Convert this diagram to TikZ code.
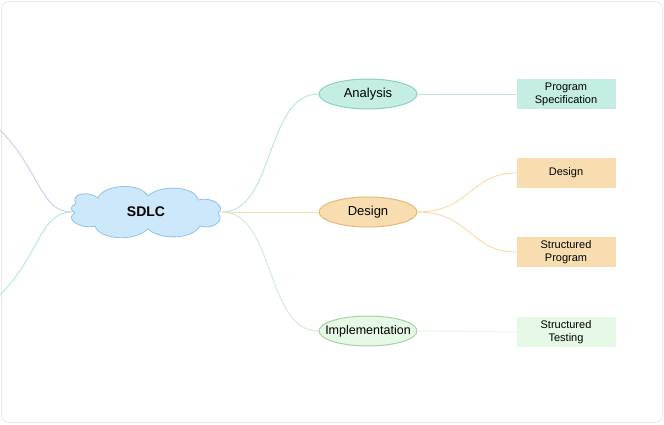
\documentclass[tikz,border=0pt]{standalone}
\usepackage{fontspec}
\setmainfont{Liberation Sans}
\usetikzlibrary{shapes.geometric}
\definecolor{tealf}{HTML}{C4EEE4}\definecolor{teald}{HTML}{8ECFBE}
\definecolor{orf}{HTML}{F8DDB0}\definecolor{ord}{HTML}{E3BB74}
\definecolor{grf}{HTML}{E6F8E6}\definecolor{grd}{HTML}{A8D0A8}
\definecolor{cloudf}{HTML}{CDE8FB}\definecolor{cloudd}{HTML}{8EC2E8}
\definecolor{purp}{HTML}{DCC8EC}
\begin{document}
\begin{tikzpicture}[x=1pt,y=-1pt,
  ell/.style={ellipse,draw,line width=1pt,minimum width=98pt,minimum height=30pt,inner sep=0pt},
  ellt/.style={font=\fontsize{13}{15}\selectfont},
  leaf/.style={rectangle,minimum width=99pt,minimum height=30pt,inner sep=0pt,align=center,font=\fontsize{11}{13}\selectfont},
  lnk/.style={line width=1pt}]
\useasboundingbox (0,0) rectangle (664,424);
\draw[rounded corners=8pt,color=black!8,line width=1pt] (1.5,1.5) rectangle (662.5,422.5);
\draw[cloudd,fill=cloudf,line width=0.8pt]
 (76,204) .. controls (70,194) and (88,190) .. (98,198)
 .. controls (104,184) and (140,182) .. (148,196)
 .. controls (160,184) and (196,186) .. (198,200)
 .. controls (214,196) and (226,208) .. (218,213)
 .. controls (226,222) and (210,230) .. (200,226)
 .. controls (192,240) and (160,240) .. (148,229)
 .. controls (134,242) and (100,240) .. (95,226)
 .. controls (80,230) and (64,218) .. (75,213)
 .. controls (70,210) and (70,206) .. (76,204) -- cycle;
\node[inner sep=0pt,minimum width=148pt,minimum height=50pt,font=\bfseries\fontsize{14}{16}\selectfont] (c) at (146,212) {SDLC};
\node[ell,draw=teald,fill=tealf,label={[ellt]center:Analysis}] (a) at (368,94) {};
\node[ell,draw=ord,fill=orf,label={[ellt]center:Design}] (d) at (368,212) {};
\node[ell,draw=grd,fill=grf,label={[ellt,font=\fontsize{12.5}{15}\selectfont]center:Implementation}] (i) at (368,331) {};
\node[leaf,fill=tealf] (ps) at (566,94) {Program\\Specification};
\node[leaf,fill=orf] (dd) at (566,173) {Design};
\node[leaf,fill=orf] (sp) at (566,252) {Structured\\Program};
\node[leaf,fill=grf] (st) at (566,332) {Structured\\Testing};
\coordinate (cr) at (222,212);
\coordinate (cl) at (72,212);
\coordinate (lt) at (0,130);
\coordinate (lb) at (0,295);
\draw[lnk,color=tealf!80!teald] (cr) .. controls (275,212) and (265,94) .. (a.west);
\draw[lnk,color=orf] (cr) -- (d.west);
\draw[lnk,color=grf!70!grd] (cr) .. controls (275,212) and (265,331) .. (i.west);
\draw[lnk,color=purp] (lt) .. controls (40,170) and (40,212) .. (cl);
\draw[lnk,color=tealf!80!teald] (cl) .. controls (40,212) and (40,255) .. (lb);
\draw[lnk,color=tealf!80!teald] (a.east) -- (ps.west);
\draw[lnk,color=orf] (d.east) .. controls (470,212) and (470,173) .. (dd.west);
\draw[lnk,color=orf] (d.east) .. controls (470,212) and (470,252) .. (sp.west);
\draw[lnk,color=grf] (i.east) -- (st.west);
\end{tikzpicture}
\end{document}
